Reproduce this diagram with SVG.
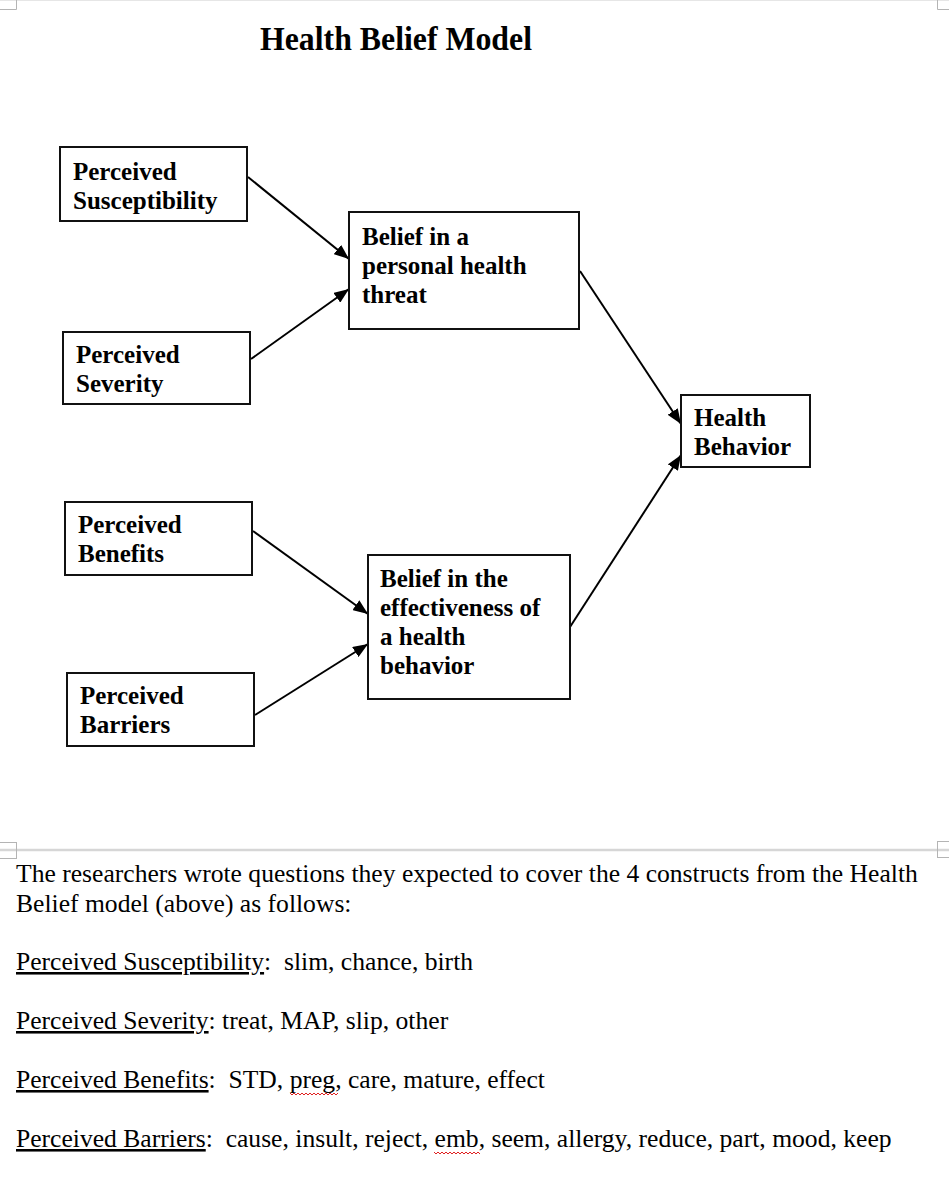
<svg xmlns="http://www.w3.org/2000/svg" width="949" height="1187" viewBox="0 0 949 1187">
<style>
.box{fill:#fff;stroke:#111;stroke-width:2}
.nt{font-family:"Liberation Serif","Times New Roman",serif;font-weight:bold;font-size:25px;fill:#000}
.title{font-family:"Liberation Serif","Times New Roman",serif;font-weight:bold;font-size:33px;fill:#000}
.body{font-family:"Liberation Serif","Times New Roman",serif;font-size:25.6px;fill:#000}
.conn{stroke:#000;stroke-width:2;fill:none}
.mark{stroke:#b4b4b4;stroke-width:1;fill:none}
.sq{stroke:#e02020;stroke-width:1;fill:none}
</style>
<defs>
<marker id="ah" viewBox="0 0 15 12" markerUnits="userSpaceOnUse" markerWidth="15" markerHeight="12" refX="15" refY="6" orient="auto">
<path d="M0,0 L15,6 L0,12 z" fill="#000"/>
</marker>
</defs>
<rect width="949" height="1187" fill="#fff"/>
<g id="page-marks">
<line x1="0" y1="0.5" x2="949" y2="0.5" stroke="#e6e6e6" stroke-width="1"/>
<path class="mark" d="M0,9.5 H16.5 V0"/>
<path class="mark" d="M937.5,0 V9.5 H949"/>
<line x1="0" y1="850" x2="949" y2="850" stroke="#d6d6d6" stroke-width="2.5"/>
<rect class="mark" x="-1" y="842.5" width="17.5" height="16"/>
<rect class="mark" x="937.5" y="841.5" width="13" height="16"/>
</g>
<text id="title" class="title" x="260" y="50" textLength="272" lengthAdjust="spacingAndGlyphs">Health Belief Model</text>
<g id="connectors">
<line class="conn" x1="248" y1="177" x2="349" y2="259" marker-end="url(#ah)"/>
<line class="conn" x1="251" y1="359" x2="349" y2="289" marker-end="url(#ah)"/>
<line class="conn" x1="580" y1="271" x2="681" y2="424" marker-end="url(#ah)"/>
<line class="conn" x1="570" y1="627" x2="681" y2="455" marker-end="url(#ah)"/>
<line class="conn" x1="253" y1="531" x2="368" y2="614" marker-end="url(#ah)"/>
<line class="conn" x1="255" y1="715" x2="368" y2="644" marker-end="url(#ah)"/>
</g>
<g id="perceived-susceptibility">
<rect class="box" x="60" y="147" width="187" height="74"/>
<text class="nt" x="73" y="180">Perceived</text>
<text class="nt" x="73" y="209">Susceptibility</text>
</g>
<g id="perceived-severity">
<rect class="box" x="63" y="332" width="187" height="72"/>
<text class="nt" x="76" y="363">Perceived</text>
<text class="nt" x="76" y="392">Severity</text>
</g>
<g id="belief-threat">
<rect class="box" x="349" y="212" width="230" height="117"/>
<text class="nt" x="362" y="245">Belief in a</text>
<text class="nt" x="362" y="274">personal health</text>
<text class="nt" x="362" y="303">threat</text>
</g>
<g id="health-behavior">
<rect class="box" x="681" y="395" width="129" height="72"/>
<text class="nt" x="694" y="426">Health</text>
<text class="nt" x="694" y="455">Behavior</text>
</g>
<g id="perceived-benefits">
<rect class="box" x="65" y="502" width="187" height="73"/>
<text class="nt" x="78" y="533">Perceived</text>
<text class="nt" x="78" y="562">Benefits</text>
</g>
<g id="perceived-barriers">
<rect class="box" x="67" y="673" width="187" height="73"/>
<text class="nt" x="80" y="704">Perceived</text>
<text class="nt" x="80" y="733">Barriers</text>
</g>
<g id="belief-effectiveness">
<rect class="box" x="368" y="555" width="202" height="144"/>
<text class="nt" x="380" y="587">Belief in the</text>
<text class="nt" x="380" y="616">effectiveness of</text>
<text class="nt" x="380" y="645">a health</text>
<text class="nt" x="380" y="674">behavior</text>
</g>
<g id="body-text">
<text class="body" x="16" y="882">The researchers wrote questions they expected to cover the 4 constructs from the Health</text>
<text class="body" x="16" y="911.5">Belief model (above) as follows:</text>
<text class="body" x="16" y="970" xml:space="preserve"><tspan text-decoration="underline">Perceived Susceptibility</tspan>:  slim, chance, birth</text>
<text class="body" x="16" y="1029" xml:space="preserve"><tspan text-decoration="underline">Perceived Severity</tspan>: treat, MAP, slip, other</text>
<text class="body" x="16" y="1088" xml:space="preserve"><tspan text-decoration="underline">Perceived Benefits</tspan>:  STD, preg, care, mature, effect</text>
<text class="body" x="16" y="1147" xml:space="preserve"><tspan text-decoration="underline">Perceived Barriers</tspan>:  cause, insult, reject, emb, seem, allergy, reduce, part, mood, keep</text>
<path class="sq" d="M290,1093 l2,2 l2,-2 l2,2 l2,-2 l2,2 l2,-2 l2,2 l2,-2 l2,2 l2,-2 l2,2 l2,-2 l2,2 l2,-2 l2,2 l2,-2 l2,2 l2,-2 l2,2 l2,-2 l2,2 l2,-2 l2,2 l2,-2"/>
<path class="sq" d="M434,1152 l2,2 l2,-2 l2,2 l2,-2 l2,2 l2,-2 l2,2 l2,-2 l2,2 l2,-2 l2,2 l2,-2 l2,2 l2,-2 l2,2 l2,-2 l2,2 l2,-2 l2,2 l2,-2 l2,2 l2,-2 l2,2"/>
</g>
</svg>
